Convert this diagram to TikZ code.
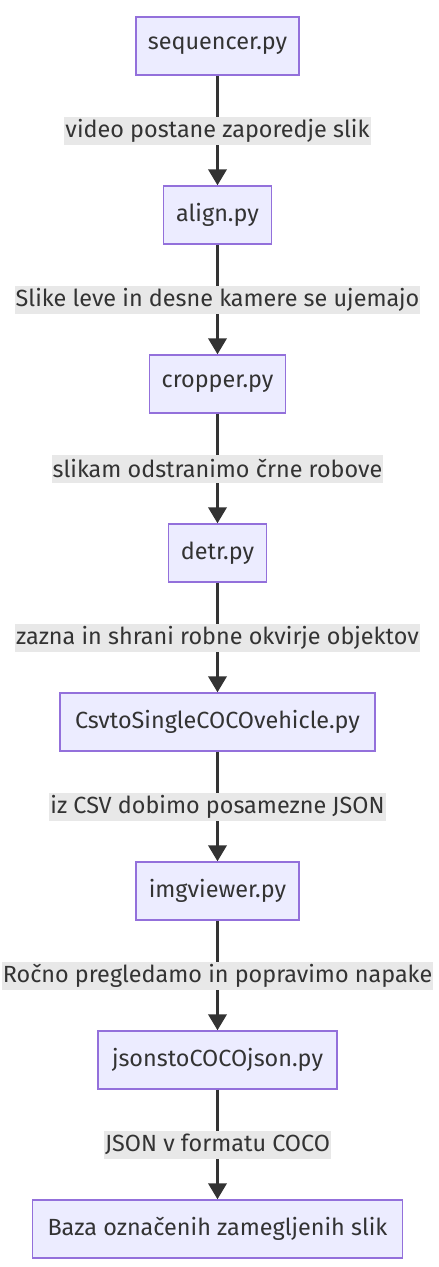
\documentclass[tikz,border=0pt]{standalone}
\usepackage{fontspec}
\setmainfont{Fira Sans}
\usetikzlibrary{arrows.meta}
\definecolor{nodefill}{HTML}{ECECFF}
\definecolor{nodeline}{HTML}{9370DB}
\definecolor{edgecol}{HTML}{333333}
\definecolor{lblbg}{HTML}{E8E8E8}
\tikzset{
  box/.style={draw=nodeline, fill=nodefill, line width=1.3pt, minimum height=58pt, inner sep=0pt, text=edgecol, font=\fontsize{23.4}{26}\selectfont},
  flow/.style={draw=edgecol, line width=3.5pt, -{Triangle[width=18pt,length=16pt]}},
  lbl/.style={fill=lblbg, text=edgecol, inner xsep=1pt, inner ysep=0pt, minimum height=28pt, font=\fontsize{23.4}{26}\selectfont}
}
\begin{document}
\begin{tikzpicture}[x=1pt,y=-1pt]
\useasboundingbox (0,0) rectangle (439,1267);
\node[box, minimum width=163pt] (n1) at (217.5,46) {sequencer.py};
\node[box, minimum width=108pt] (n2) at (217.5,215) {align.py};
\node[box, minimum width=136pt] (n3) at (217.5,384) {cropper.py};
\node[box, minimum width=98pt] (n4) at (217.5,553) {detr.py};
\node[box, minimum width=315pt] (n5) at (217.5,722) {CsvtoSingleCOCOvehicle.py};
\node[box, minimum width=163pt] (n6) at (217.5,891) {imgviewer.py};
\node[box, minimum width=239pt] (n7) at (217.5,1060) {jsonstoCOCOjson.py};
\node[box, minimum width=370pt] (n8) at (217.5,1229) {Baza označenih zamegljenih slik};
\draw[flow] (n1) -- node[lbl] {video postane zaporedje slik} (n2);
\draw[flow] (n2) -- node[lbl] {Slike leve in desne kamere se ujemajo} (n3);
\draw[flow] (n3) -- node[lbl] {slikam odstranimo črne robove} (n4);
\draw[flow] (n4) -- node[lbl] {zazna in shrani robne okvirje objektov} (n5);
\draw[flow] (n5) -- node[lbl] {iz CSV dobimo posamezne JSON} (n6);
\draw[flow] (n6) -- node[lbl] {Ročno pregledamo in popravimo napake} (n7);
\draw[flow] (n7) -- node[lbl] {JSON v formatu COCO} (n8);
\end{tikzpicture}
\end{document}
